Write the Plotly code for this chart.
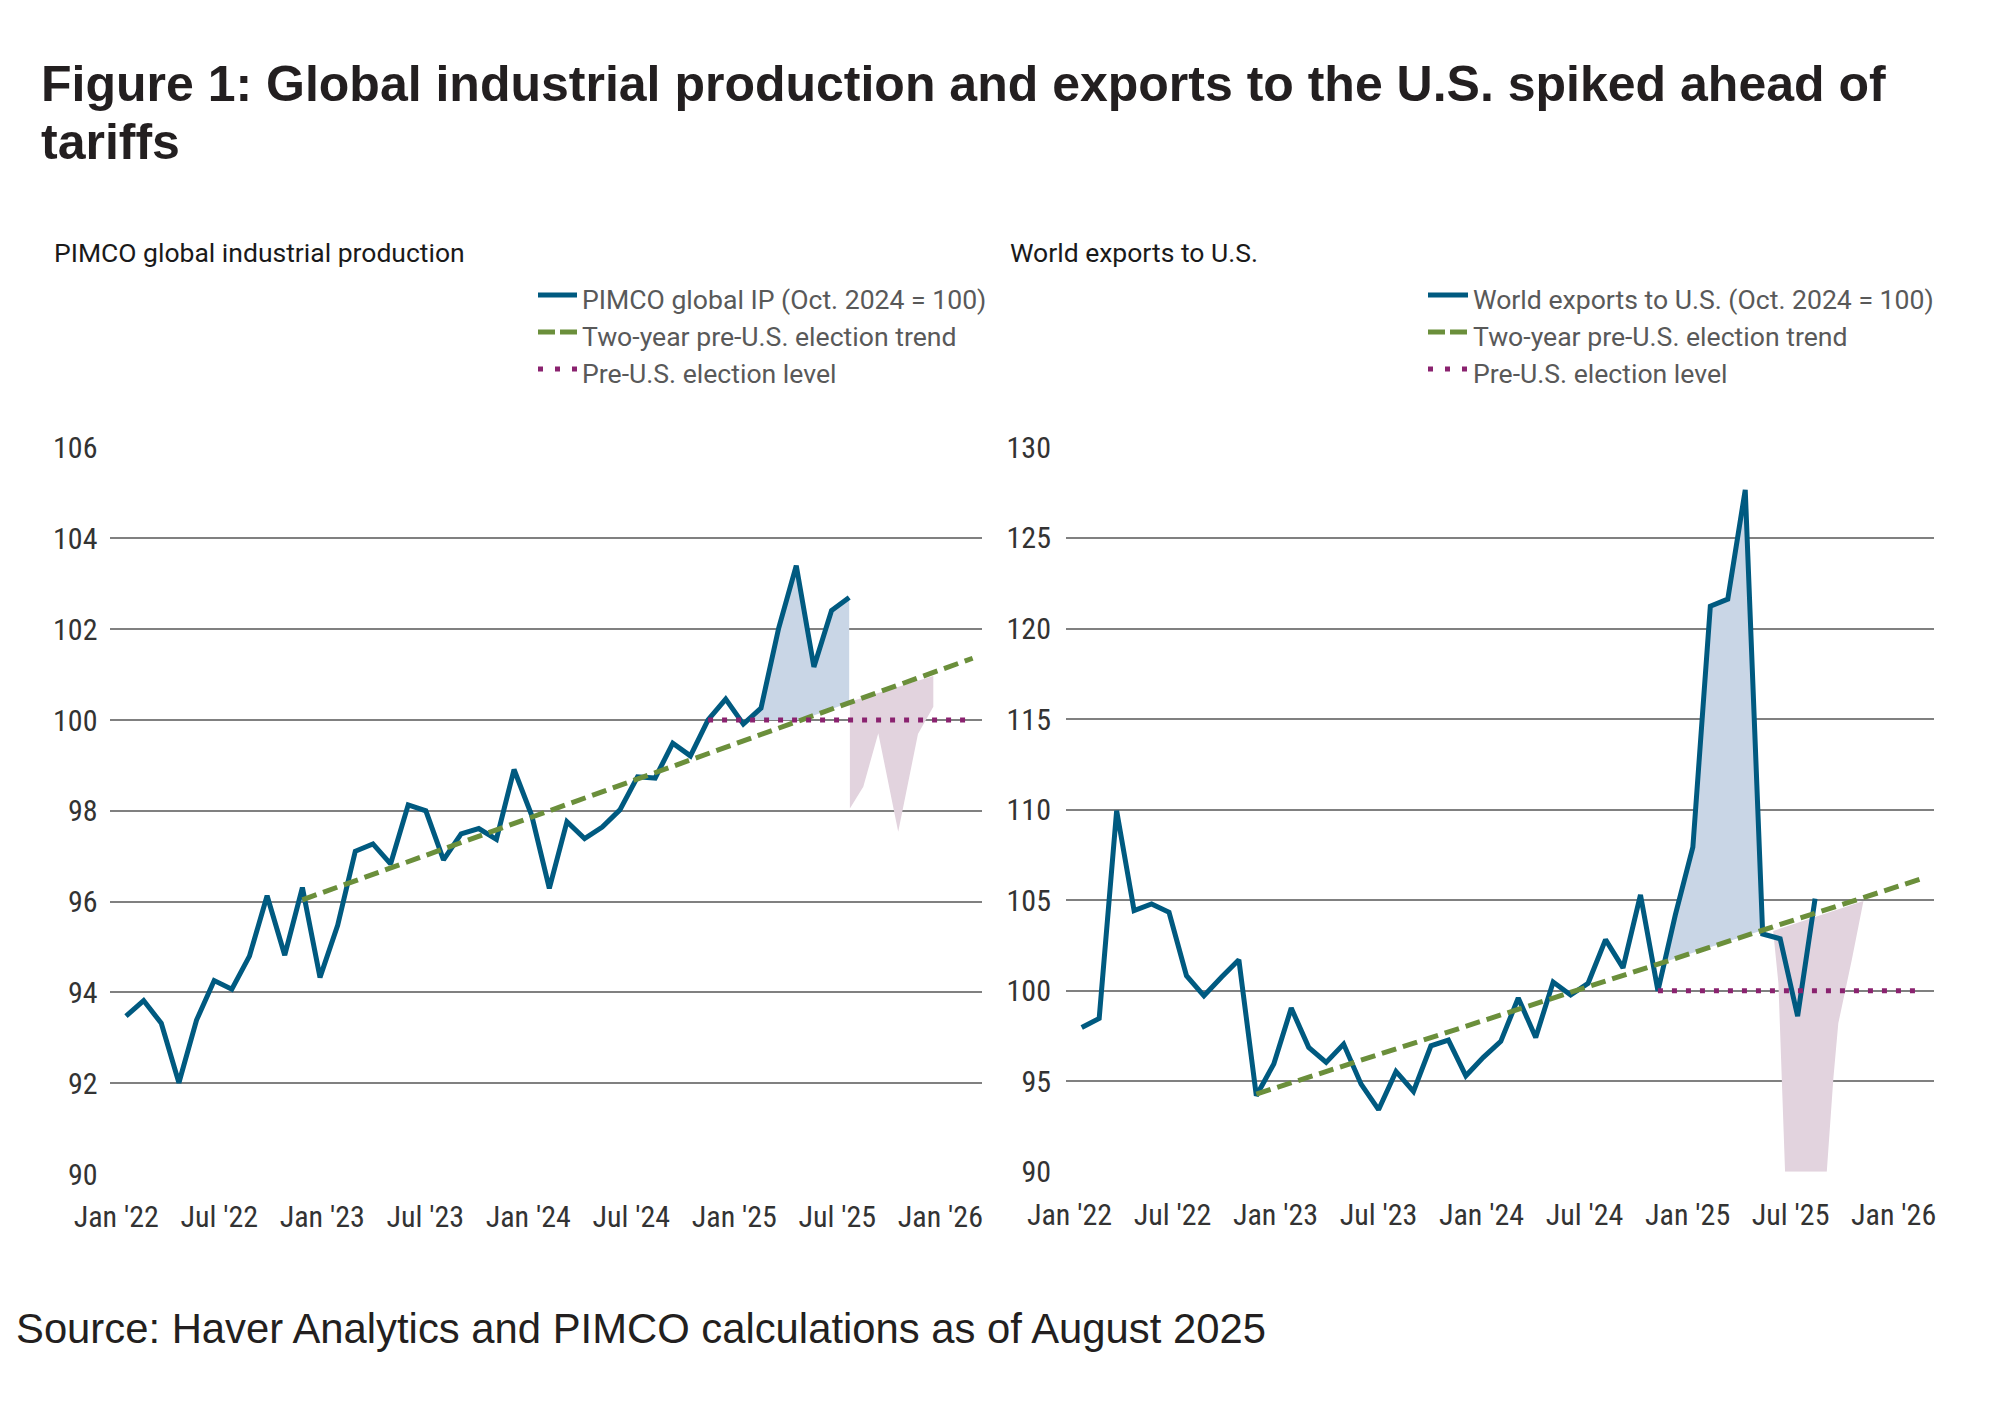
import numpy as np
import plotly.graph_objects as go

W, H = 1998, 1418

# ---------------- data ----------------
# Month index 0 = Jan 2022
ip_values = [93.48, 93.82, 93.32, 92.01, 93.39, 94.26, 94.07, 94.80, 96.13, 94.82,
             96.31, 94.33, 95.48, 97.11, 97.27, 96.83, 98.13, 98.00, 96.92, 97.49,
             97.61, 97.37, 98.91, 97.90, 96.29, 97.76, 97.39, 97.64, 98.02, 98.75,
             98.72, 99.49, 99.21, 100.00, 100.46, 99.91, 100.26, 102.02, 103.40, 101.17,
             102.41, 102.70]
exports_values = [97.97, 98.47, 109.94, 104.42, 104.79, 104.33, 100.83, 99.72, 100.74, 101.71,
                  94.20, 95.95, 99.04, 96.87, 96.04, 97.05, 94.84, 93.43, 95.54, 94.44,
                  96.96, 97.27, 95.30, 96.32, 97.20, 99.60, 97.42, 100.48, 99.76, 100.41,
                  102.82, 101.26, 105.29, 100.00, 104.20, 107.93, 121.23, 121.62, 127.66, 103.13,
                  102.87, 98.59, 105.08]

ip_trend_months = [10, 48]
ip_trend_values = [96.04, 101.36]
ex_trend_months = [10, 48]
ex_trend_values = [94.29, 106.15]

level_months = [33, 48]
level_value = 100

# pink "payback" areas (outline)
ip_pink_x = [41.04, 41.8, 42.65, 43.78, 44.9, 45.77, 45.77, 41.04]
ip_pink_y = [98.05, 98.53, 99.71, 97.54, 99.69, 100.29, 100.97, 100.40]
ex_pink_x = [39.6, 39.9, 40.28, 42.67, 43.05, 43.33, 44.1, 44.77]
ex_pink_y = [103.3, 100.4, 90.0, 90.0, 95.2, 98.2, 101.7, 104.95]

x_tick_labels = ["Jan '22", "Jul '22", "Jan '23", "Jul '23", "Jan '24",
                 "Jul '24", "Jan '25", "Jul '25", "Jan '26"]

title_line1 = "Figure 1: Global industrial production and exports to the U.S. spiked ahead of"
title_line2 = "tariffs"
source_text = "Source: Haver Analytics and PIMCO calculations as of August 2025"
left_subtitle = "PIMCO global industrial production"
right_subtitle = "World exports to U.S."
left_legend = ["PIMCO global IP (Oct. 2024 = 100)", "Two-year pre-U.S. election trend",
               "Pre-U.S. election level"]
right_legend = ["World exports to U.S. (Oct. 2024 = 100)", "Two-year pre-U.S. election trend",
                "Pre-U.S. election level"]

# ---------------- styles ----------------
BLUE = "#005a80"
GREEN = "#6b8f3b"
PURPLE = "#8a226f"
BLUE_FILL = "#c9d6e6"
PINK_FILL = "#e2d3de"
GRID = "#808080"
TICK_FONT = dict(family="Roboto Condensed, Roboto, sans-serif", size=30, color="#333333")
TREND_DASH = "15px,7px"
LEVEL_DASH = "5px,9px"


def excess_polygon(values, t_m, t_v, level, i0, i1):
    months = np.arange(len(values), dtype=float)

    def low(m):
        return max(float(np.interp(m, t_m, t_v)), level)

    xs, ys = [], []
    for i in range(i0, i1 + 1):
        d0 = values[i] - low(months[i])
        if d0 >= 0:
            xs.append(months[i]); ys.append(values[i])
        if i < i1:
            d1 = values[i + 1] - low(months[i + 1])
            if d0 * d1 < 0:
                f = d0 / (d0 - d1)
                xs.append(months[i] + f)
                ys.append(values[i] + f * (values[i + 1] - values[i]))
    slope = (t_v[1] - t_v[0]) / (t_m[1] - t_m[0])
    mk = t_m[0] + (level - t_v[0]) / slope
    lx = list(xs)
    if xs[0] < mk < xs[-1]:
        lx.append(mk)
    lx = sorted(set(lx), reverse=True)
    ly = [low(m) for m in lx]
    return xs + lx, ys + ly


fig = go.Figure()


def add_panel(values, t_m, t_v, pink_x, pink_y, i0, i1, xa, ya, name):
    months = list(range(len(values)))
    px_, py_ = excess_polygon(values, t_m, t_v, level_value, i0, i1)
    fig.add_trace(go.Scatter(x=px_, y=py_, fill="toself", fillcolor=BLUE_FILL, mode="lines",
                             line=dict(width=0), hoverinfo="skip", showlegend=False,
                             xaxis=xa, yaxis=ya))
    fig.add_trace(go.Scatter(x=pink_x, y=pink_y, fill="toself", fillcolor=PINK_FILL, mode="lines",
                             line=dict(width=0), hoverinfo="skip", showlegend=False,
                             xaxis=xa, yaxis=ya))
    fig.add_trace(go.Scatter(x=months, y=values, mode="lines", name=name,
                             line=dict(color=BLUE, width=5), showlegend=False,
                             xaxis=xa, yaxis=ya))
    fig.add_trace(go.Scatter(x=t_m, y=t_v, mode="lines", name="Two-year pre-U.S. election trend",
                             line=dict(color=GREEN, width=5, dash=TREND_DASH), showlegend=False,
                             xaxis=xa, yaxis=ya))
    fig.add_trace(go.Scatter(x=level_months, y=[level_value] * len(level_months), mode="lines",
                             name="Pre-U.S. election level",
                             line=dict(color=PURPLE, width=5, dash=LEVEL_DASH), showlegend=False,
                             xaxis=xa, yaxis=ya))


add_panel(ip_values, ip_trend_months, ip_trend_values, ip_pink_x, ip_pink_y, 35, 41, "x", "y",
          left_legend[0])
add_panel(exports_values, ex_trend_months, ex_trend_values, ex_pink_x, ex_pink_y, 33, 39, "x2", "y2",
          right_legend[0])


def px2x(p):
    return p / W


def px2y(p):
    return 1 - p / H


xcommon = dict(showgrid=False, zeroline=False, showline=False, ticks="", tickfont=TICK_FONT,
               ticktext=x_tick_labels, tickmode="array", ticklabelstandoff=22, fixedrange=True,
               automargin=False)
ycommon = dict(showgrid=True, gridcolor=GRID, gridwidth=2, zeroline=False, showline=False,
               ticks="", tickfont=TICK_FONT, fixedrange=True, automargin=False)

fig.update_layout(
    template="none",
    width=W, height=H, margin=dict(l=0, r=0, t=0, b=0, pad=0, autoexpand=False),
    paper_bgcolor="white", plot_bgcolor="white", showlegend=False,
    xaxis=dict(domain=[px2x(109.5), px2x(982)], range=[-0.935, 48.53], anchor="y",
               tickvals=[-0.55 + 5.84 * k for k in range(len(x_tick_labels))], **xcommon),
    yaxis=dict(domain=[px2y(1174), px2y(447.6)], range=[90, 106], dtick=2, anchor="x",
               ticklabelstandoff=11, **ycommon),
    xaxis2=dict(domain=[px2x(1066), px2x(1934)], range=[-0.9, 48.81], anchor="y2",
                tickvals=[-0.7 + 5.9 * k for k in range(len(x_tick_labels))], **xcommon),
    yaxis2=dict(domain=[px2y(1171.8), px2y(447.4)], range=[90, 130], dtick=5, anchor="x2",
                ticklabelstandoff=14, **ycommon),
)

ann = []
TITLE_FONT = dict(family="Liberation Sans, Arial, sans-serif", size=50, color="#231f20")
ann.append(dict(text="<b>%s</b>" % title_line1, x=px2x(39), y=px2y(53.75), xref="paper", yref="paper",
                xanchor="left", yanchor="top", showarrow=False, font=TITLE_FONT))
ann.append(dict(text="<b>%s</b>" % title_line2, x=px2x(39), y=px2y(112), xref="paper", yref="paper",
                xanchor="left", yanchor="top", showarrow=False, font=TITLE_FONT))
ann.append(dict(text=source_text, x=px2x(14), y=px2y(1303), xref="paper", yref="paper",
                xanchor="left", yanchor="top", showarrow=False,
                font=dict(family="Liberation Sans, Arial, sans-serif", size=41.8, color="#231f20")))
SUB_FONT = dict(family="Roboto, sans-serif", size=26.5, color="#1a1a1a")
ann.append(dict(text=left_subtitle, x=px2x(52), y=px2y(235), xref="paper", yref="paper",
                xanchor="left", yanchor="top", showarrow=False, font=SUB_FONT))
ann.append(dict(text=right_subtitle, x=px2x(1008), y=px2y(235), xref="paper", yref="paper",
                xanchor="left", yanchor="top", showarrow=False, font=SUB_FONT))

LEG_FONT = dict(family="Roboto, sans-serif", size=26.6, color="#595959")
leg_rows = [282.0, 319.0, 356.0]
leg_line_y = [295, 332, 369]
leg_styles = [dict(color=BLUE, width=5), dict(color=GREEN, width=5, dash="17px,5px"),
              dict(color=PURPLE, width=5, dash="5px,12px")]
shapes = []
for (tx, lx0, lx1, labels) in [(580, 538, 577, left_legend), (1471, 1428, 1468, right_legend)]:
    for r, lab in enumerate(labels):
        ann.append(dict(text=lab, x=px2x(tx), y=px2y(leg_rows[r]), xref="paper", yref="paper",
                        xanchor="left", yanchor="top", showarrow=False, font=LEG_FONT))
        shapes.append(dict(type="line", xref="paper", yref="paper", x0=px2x(lx0), x1=px2x(lx1),
                           y0=px2y(leg_line_y[r]), y1=px2y(leg_line_y[r]), line=leg_styles[r]))

fig.update_layout(annotations=ann, shapes=shapes)

fig.write_html("out.html")
